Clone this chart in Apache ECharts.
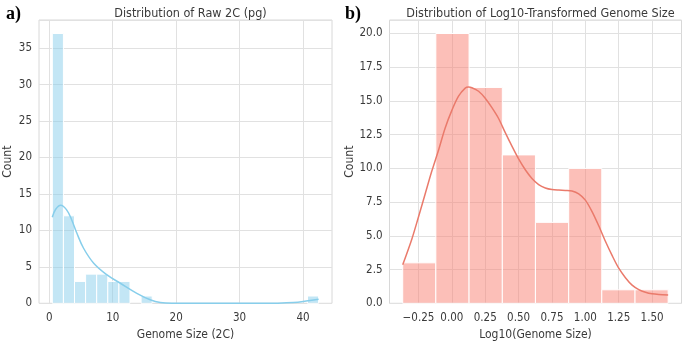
<!DOCTYPE html>
<html><head><meta charset="utf-8">
<script src="https://cdn.jsdelivr.net/npm/echarts@6/dist/echarts.min.js"></script>
<style>html,body{margin:0;padding:0;background:#fff}#c{width:685px;height:341px}</style>
</head><body><div id="c"></div>
<script>
// ---- Panel a: raw 2C (pg) ----
const rawBinEdges = [0.47, 2.22, 3.97, 5.72, 7.47, 9.22, 10.97, 12.72, 14.47, 16.22, 17.97, 19.72, 21.47, 23.22, 24.97, 26.72, 28.47, 30.22, 31.97, 33.72, 35.47, 37.22, 38.97, 40.72, 42.47];
const rawCounts = [37, 12, 3, 4, 4, 3, 3, 0, 1, 0, 0, 0, 0, 0, 0, 0, 0, 0, 0, 0, 0, 0, 0, 1];
const rawKde = [[0.47,11.8],[1.0,12.9],[1.8,13.45],[2.7,12.85],[3.5,11.5],[4.3,9.7],[5.4,7.55],[7.0,5.5],[9.1,3.9],[11.2,2.75],[13.8,1.37],[16.0,0.45],[17.5,0.12],[19.5,0.02],[25,0],[32,0],[36,0.02],[38.5,0.1],[40.5,0.3],[42.47,0.55]];
const rawXTicks = [0, 10, 20, 30, 40];

// ---- Panel b: log10 genome size ----
const logBinEdges = [-0.368, -0.12, 0.129, 0.378, 0.626, 0.875, 1.123, 1.372, 1.62];
const logCounts = [3, 20, 16, 11, 6, 10, 1, 1];
const logKde = [[-0.368,2.85],[-0.30,4.75],[-0.25,6.4],[-0.20,8.1],[-0.15,9.8],[-0.10,11.35],[-0.05,13.0],[0.00,14.3],[0.05,15.35],[0.10,15.95],[0.125,16.03],[0.15,15.98],[0.20,15.72],[0.25,15.2],[0.30,14.5],[0.35,13.7],[0.40,12.65],[0.45,11.65],[0.50,10.7],[0.55,9.9],[0.60,9.25],[0.65,8.8],[0.70,8.55],[0.75,8.43],[0.80,8.39],[0.85,8.37],[0.90,8.33],[0.95,8.12],[1.00,7.65],[1.05,6.8],[1.10,5.75],[1.15,4.6],[1.20,3.55],[1.25,2.6],[1.30,1.9],[1.35,1.35],[1.40,1.02],[1.45,0.82],[1.50,0.7],[1.55,0.65],[1.62,0.62]];
const logXTicks = [-0.25, 0.00, 0.25, 0.50, 0.75, 1.00, 1.25, 1.50];

function binData(edges, counts){
  const out=[];
  for(let i=0;i<counts.length;i++){ if(counts[i]>0) out.push([edges[i], edges[i+1], counts[i]]); }
  return out;
}
function histRender(fill){
  return function(params, api){
    const p0 = api.coord([api.value(0), api.value(2)]);
    const p1 = api.coord([api.value(1), 0]);
    return {type:'rect', shape:{x:p0[0], y:p0[1], width:p1[0]-p0[0], height:p1[1]-p0[1]},
      style:{fill:fill, stroke:'#ffffff', lineWidth:1}};
  };
}
const gridCol = '#e1e1e1';
const txt = '#3a3a3a';
const font = 'DejaVu Sans Condensed';
function xAxisCfg(idx, min, max, ticks, name, fmt){
  return {type:'value', gridIndex:idx, min:min, max:max,
    name:name, nameLocation:'middle', nameGap:23,
    nameTextStyle:{fontFamily:font, fontSize:12, color:txt},
    axisLine:{show:false}, axisTick:{show:false, customValues:ticks},
    axisLabel:{customValues:ticks, fontFamily:font, fontSize:11.5, color:txt, margin:9, formatter:fmt},
    splitLine:{show:true, lineStyle:{color:gridCol, width:1}}};
}
function yAxisCfg(idx, max, interval, fmt, gap){
  return {type:'value', gridIndex:idx, min:0, max:max, interval:interval,
    name:'Count', nameLocation:'middle', nameGap:gap,
    nameTextStyle:{fontFamily:font, fontSize:12, color:txt},
    axisLine:{show:false}, axisTick:{show:false},
    axisLabel:{fontFamily:font, fontSize:11.5, color:txt, margin:7, formatter:fmt, showMaxLabel:false},
    splitLine:{show:true, lineStyle:{color:gridCol, width:1}}};
}
const chart = echarts.init(document.getElementById('c'), null, {renderer:'canvas'});
chart.setOption({
  animation:false,
  backgroundColor:'#ffffff',
  title:[
    {text:'Distribution of Raw 2C (pg)', left:185.5, textAlign:'center', top:2, textStyle:{fontFamily:font, fontSize:12.5, fontWeight:'normal', color:txt}},
    {text:'Distribution of Log10-Transformed Genome Size', left:535.5, textAlign:'center', top:2, textStyle:{fontFamily:font, fontSize:12.5, fontWeight:'normal', color:txt}},
    {text:'a)', left:1, top:0, textStyle:{fontFamily:'Liberation Serif', fontSize:18, fontWeight:'bold', color:'#000'}},
    {text:'b)', left:340, top:0, textStyle:{fontFamily:'Liberation Serif', fontSize:18, fontWeight:'bold', color:'#000'}}
  ],
  grid:[
    {left:39, top:20, width:293, height:283.3, show:true, borderColor:'#d8d8d8', borderWidth:1, backgroundColor:'transparent', containLabel:false, outerBoundsMode:'none'},
    {left:389.5, top:20, width:292, height:283.3, show:true, borderColor:'#d8d8d8', borderWidth:1, backgroundColor:'transparent', containLabel:false, outerBoundsMode:'none'}
  ],
  xAxis:[
    xAxisCfg(0, -1.63, 44.58, rawXTicks, 'Genome Size (2C)', v=>String(v)),
    xAxisCfg(1, -0.467, 1.72, logXTicks, 'Log10(Genome Size)', v=>(v<0?'\u2212':'')+Math.abs(v).toFixed(2))
  ],
  yAxis:[
    yAxisCfg(0, 38.85, 5, v=>String(v), 25),
    yAxisCfg(1, 21, 2.5, v=>v.toFixed(1), 33)
  ],
  series:[
    {type:'custom', xAxisIndex:0, yAxisIndex:0, renderItem:histRender('rgba(135,206,235,0.5)'), data:binData(rawBinEdges, rawCounts), encode:{x:[0,1], y:2}},
    {type:'line', xAxisIndex:0, yAxisIndex:0, data:rawKde, smooth:0.4, showSymbol:false, lineStyle:{color:'#87ceeb', width:1.5}},
    {type:'custom', xAxisIndex:1, yAxisIndex:1, renderItem:histRender('rgba(250,128,114,0.5)'), data:binData(logBinEdges, logCounts), encode:{x:[0,1], y:2}},
    {type:'line', xAxisIndex:1, yAxisIndex:1, data:logKde, smooth:0.3, showSymbol:false, lineStyle:{color:'#ea7a6b', width:1.5}}
  ]
});
</script></body></html>
